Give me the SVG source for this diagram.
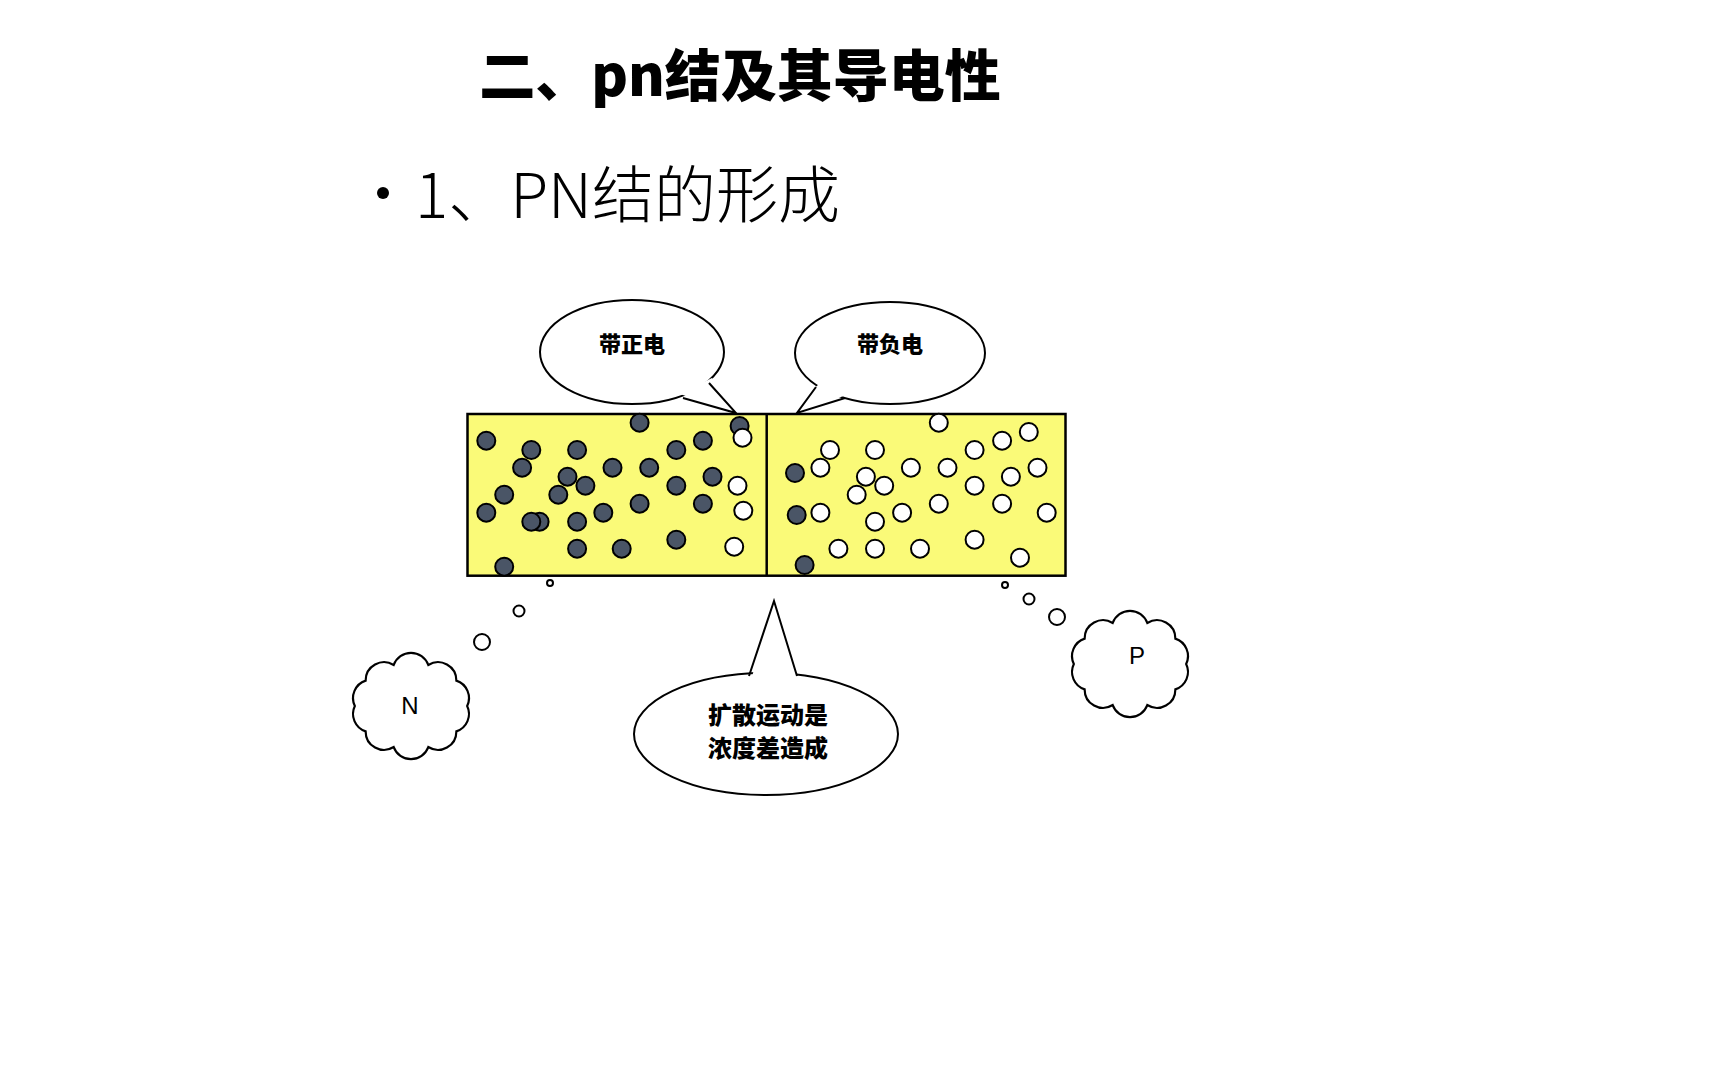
<svg xmlns="http://www.w3.org/2000/svg" width="1728" height="1080" viewBox="0 0 1728 1080">
<defs>
<style>
.d{fill:#4a5566;stroke:#000;stroke-width:2}
.w{fill:#fff;stroke:#000;stroke-width:2}
.b{fill:#fff;stroke:#000;stroke-width:2}
.t{fill:#fff;stroke:none}
.tl{fill:none;stroke:#000;stroke-width:2}
.cj{font-family:"Noto Sans CJK SC",sans-serif;font-weight:900;text-anchor:middle}
</style>
<path id="cloud" d="M52,0 A17,17 0 0 1 42,23.5 A17,17 0 0 1 16,38 A17,17 0 0 1 -16,38 A17,17 0 0 1 -42,23.5 A17,17 0 0 1 -52,0 A17,17 0 0 1 -42,-23.5 A17,17 0 0 1 -16,-38 A17,17 0 0 1 16,-38 A17,17 0 0 1 42,-23.5 A17,17 0 0 1 52,0 Z"/>
</defs>
<rect width="1728" height="1080" fill="#fff"/>
<text x="740" y="96" font-size="56" class="cj">二、pn结及其导电性</text>
<circle cx="383" cy="193" r="6" fill="#000"/>
<text x="415" y="218" font-size="62" font-family="Noto Sans CJK SC,sans-serif" font-weight="300">1、PN结的形成</text>
<g id="box">
<rect x="467.5" y="414" width="598" height="161.7" fill="#fafa78" stroke="#000" stroke-width="2.5"/>
<line x1="766.7" y1="414" x2="766.7" y2="575.7" stroke="#000" stroke-width="2.5"/>
<g id="dark">
<circle class="d" cx="486.3" cy="440.7" r="9"/><circle class="d" cx="531.3" cy="450" r="9"/><circle class="d" cx="577.1" cy="450" r="9"/><circle class="d" cx="639.6" cy="422.7" r="9"/><circle class="d" cx="739.6" cy="426" r="9"/><circle class="d" cx="676.3" cy="450" r="9"/><circle class="d" cx="702.9" cy="440.7" r="9"/><circle class="d" cx="522.1" cy="467.7" r="9"/><circle class="d" cx="567.5" cy="476.7" r="9"/><circle class="d" cx="612.5" cy="467.7" r="9"/><circle class="d" cx="649.2" cy="467.7" r="9"/><circle class="d" cx="712.5" cy="476.7" r="9"/><circle class="d" cx="585.4" cy="485.7" r="9"/><circle class="d" cx="504.2" cy="494.7" r="9"/><circle class="d" cx="558.3" cy="494.7" r="9"/><circle class="d" cx="676.3" cy="485.7" r="9"/><circle class="d" cx="486.3" cy="512.7" r="9"/><circle class="d" cx="539.6" cy="521.7" r="9"/><circle class="d" cx="531.3" cy="521.7" r="9"/><circle class="d" cx="577.1" cy="521.7" r="9"/><circle class="d" cx="603.3" cy="512.7" r="9"/><circle class="d" cx="639.6" cy="503.7" r="9"/><circle class="d" cx="702.9" cy="503.7" r="9"/><circle class="d" cx="676.3" cy="539.7" r="9"/><circle class="d" cx="577.1" cy="548.7" r="9"/><circle class="d" cx="621.7" cy="548.7" r="9"/><circle class="d" cx="504.2" cy="566.7" r="9"/><circle class="d" cx="795" cy="473" r="9"/><circle class="d" cx="796.7" cy="515" r="9"/><circle class="d" cx="804.6" cy="565" r="9"/>
</g>
<g id="white">
<circle class="w" cx="742.5" cy="437.7" r="9"/><circle class="w" cx="737.5" cy="485.7" r="9"/><circle class="w" cx="743.3" cy="510.7" r="9"/><circle class="w" cx="734.2" cy="546.7" r="9"/><circle class="w" cx="938.8" cy="422.7" r="9"/><circle class="w" cx="830" cy="450" r="9"/><circle class="w" cx="875" cy="450" r="9"/><circle class="w" cx="820.4" cy="467.7" r="9"/><circle class="w" cx="865.9" cy="476.7" r="9"/><circle class="w" cx="884.2" cy="485.7" r="9"/><circle class="w" cx="856.7" cy="494.7" r="9"/><circle class="w" cx="910.9" cy="467.7" r="9"/><circle class="w" cx="947.5" cy="467.7" r="9"/><circle class="w" cx="974.6" cy="450" r="9"/><circle class="w" cx="1002.1" cy="440.7" r="9"/><circle class="w" cx="1028.8" cy="432" r="9"/><circle class="w" cx="1037.5" cy="467.7" r="9"/><circle class="w" cx="1010.9" cy="476.7" r="9"/><circle class="w" cx="974.6" cy="485.7" r="9"/><circle class="w" cx="938.8" cy="503.7" r="9"/><circle class="w" cx="902.1" cy="512.7" r="9"/><circle class="w" cx="875" cy="521.7" r="9"/><circle class="w" cx="820.4" cy="512.7" r="9"/><circle class="w" cx="1002.1" cy="503.7" r="9"/><circle class="w" cx="1046.7" cy="512.7" r="9"/><circle class="w" cx="838.4" cy="548.7" r="9"/><circle class="w" cx="875" cy="548.7" r="9"/><circle class="w" cx="920" cy="548.7" r="9"/><circle class="w" cx="974.6" cy="539.7" r="9"/><circle class="w" cx="1020" cy="557.7" r="9"/>
</g>
</g>
<g id="bubble-pos">
<ellipse class="b" cx="632" cy="352" rx="92" ry="52"/>
<path class="t" d="M680,394 L736,413 L712,378 Z"/>
<path class="tl" d="M683,398 L736,413 L709,383"/>
<text x="632" y="352" font-size="22" class="cj">带正电</text>
</g>
<g id="bubble-neg">
<ellipse class="b" cx="890" cy="353" rx="95" ry="51"/>
<path class="t" d="M820,382 L797,413 L849,394 Z"/>
<path class="tl" d="M816,387 L797,413 L845,398"/>
<text x="890" y="352" font-size="22" class="cj">带负电</text>
</g>
<g id="bubble-diff">
<ellipse class="b" cx="766" cy="734" rx="132" ry="61"/>
<path class="t" d="M751,680 L774,601 L798,680 Z"/>
<path class="tl" d="M749,676 L774,601 L797,676"/>
<text x="768" y="724" font-size="24" class="cj">扩散运动是</text>
<text x="768" y="757" font-size="24" class="cj">浓度差造成</text>
</g>
<g id="cloud-n">
<use href="#cloud" transform="translate(411,706) scale(1.08)" class="b"/>
<circle class="b" cx="482" cy="642" r="8"/><circle class="b" cx="519" cy="611" r="5.5"/><circle class="b" cx="550" cy="583" r="3"/>
<text x="410" y="705" font-size="24" font-family="Liberation Sans,sans-serif" text-anchor="middle" dominant-baseline="central">N</text>
</g>
<g id="cloud-p">
<use href="#cloud" transform="translate(1130,664) scale(1.08)" class="b"/>
<circle class="b" cx="1057" cy="617" r="8"/><circle class="b" cx="1029" cy="599" r="5.5"/><circle class="b" cx="1005" cy="585" r="3"/>
<text x="1137" y="655" font-size="24" font-family="Liberation Sans,sans-serif" text-anchor="middle" dominant-baseline="central">P</text>
</g>
</svg>
